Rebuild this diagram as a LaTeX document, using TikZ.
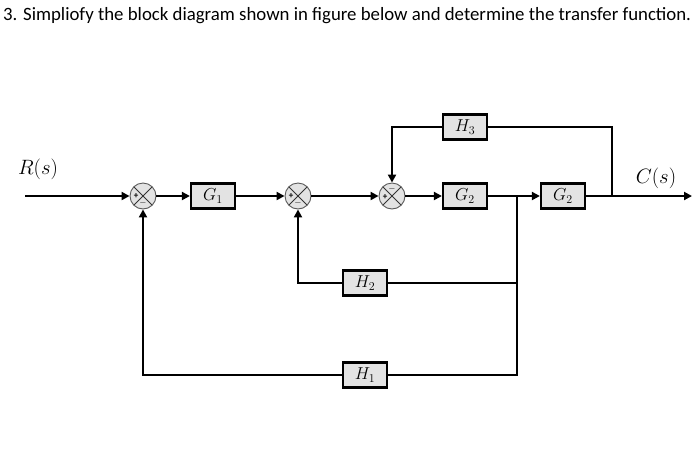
\documentclass[tikz,border=0pt]{standalone}
\usepackage{fontspec}
\setmainfont{Carlito}
\usetikzlibrary{arrows.meta,calc}
\begin{document}
\begin{tikzpicture}[x=1pt,y=-1pt,
  blk/.style={draw,line width=2.2pt,fill=gray!22,minimum width=44pt,minimum height=25pt,inner sep=0pt,font=\LARGE},
  sumj/.style={draw=gray!70!black,line width=0.9pt,circle,fill=gray!22,minimum size=26pt,inner sep=0pt,path picture={
    \draw[gray!40!black,line width=1pt] (path picture bounding box.north west)--(path picture bounding box.south east)
      (path picture bounding box.north east)--(path picture bounding box.south west);}},
  sg/.style={font=\small\bfseries,inner sep=0pt},
  ln/.style={line width=2pt},
  ar/.style={line width=2pt,-{Triangle[length=8pt,width=8pt]}}]
\useasboundingbox (0,0) rectangle (700,464);
\node[anchor=north west,font=\fontsize{18.8}{20}\selectfont,inner sep=0pt] (title) at (3,7) {3. Simpliofy the block diagram shown in figure below and determine the transfer function.};
\coordinate (rin) at (25,196);
\node[font=\huge] (Rs) at (38,169) {$R(s)$};
\node[sumj] (s1) at (143,196) {};
\node[blk] (G1) at (213,196) {$G_1$};
\node[sumj] (s2) at (298,196) {};
\node[sumj] (s3) at (392,196) {};
\node[blk] (G2a) at (465,196) {$G_2$};
\node[blk] (G2b) at (563,196) {$G_2$};
\node[blk] (H3) at (465,127) {$H_3$};
\node[blk] (H2) at (365,283) {$H_2$};
\node[blk] (H1) at (365,375) {$H_1$};
\coordinate (cout) at (692,196);
\node[font=\huge] (Cs) at (656,178) {$C(s)$};
\coordinate (b1) at (517,196);
\coordinate (b2) at (612,196);
% signs
\node[sg] at ($(s1)+(-7,0)$) {+}; \node[sg] at ($(s1)+(0,7)$) {$-$};
\node[sg] at ($(s2)+(-7,0)$) {+}; \node[sg] at ($(s2)+(0,7)$) {$-$};
\node[sg] at ($(s3)+(-7,1)$) {+}; \node[sg] at ($(s3)+(0,-7)$) {$-$};
\draw[ar] (rin) -- (s1);
\draw[ar] (s1) -- (G1);
\draw[ar] (G1) -- (s2);
\draw[ar] (s2) -- (s3);
\draw[ar] (s3) -- (G2a);
\draw[ar] (G2a) -- (G2b);
\draw[ar] (G2b) -- (cout);
\draw[ln] (b2) |- (H3);
\draw[ar] (H3) -| (s3);
\draw[ln] (b1) |- (H1);
\draw[ln] (b1 |- H2) -- (H2);
\draw[ar] (H2) -| (s2);
\draw[ar] (H1) -| (s1);
\end{tikzpicture}
\end{document}
